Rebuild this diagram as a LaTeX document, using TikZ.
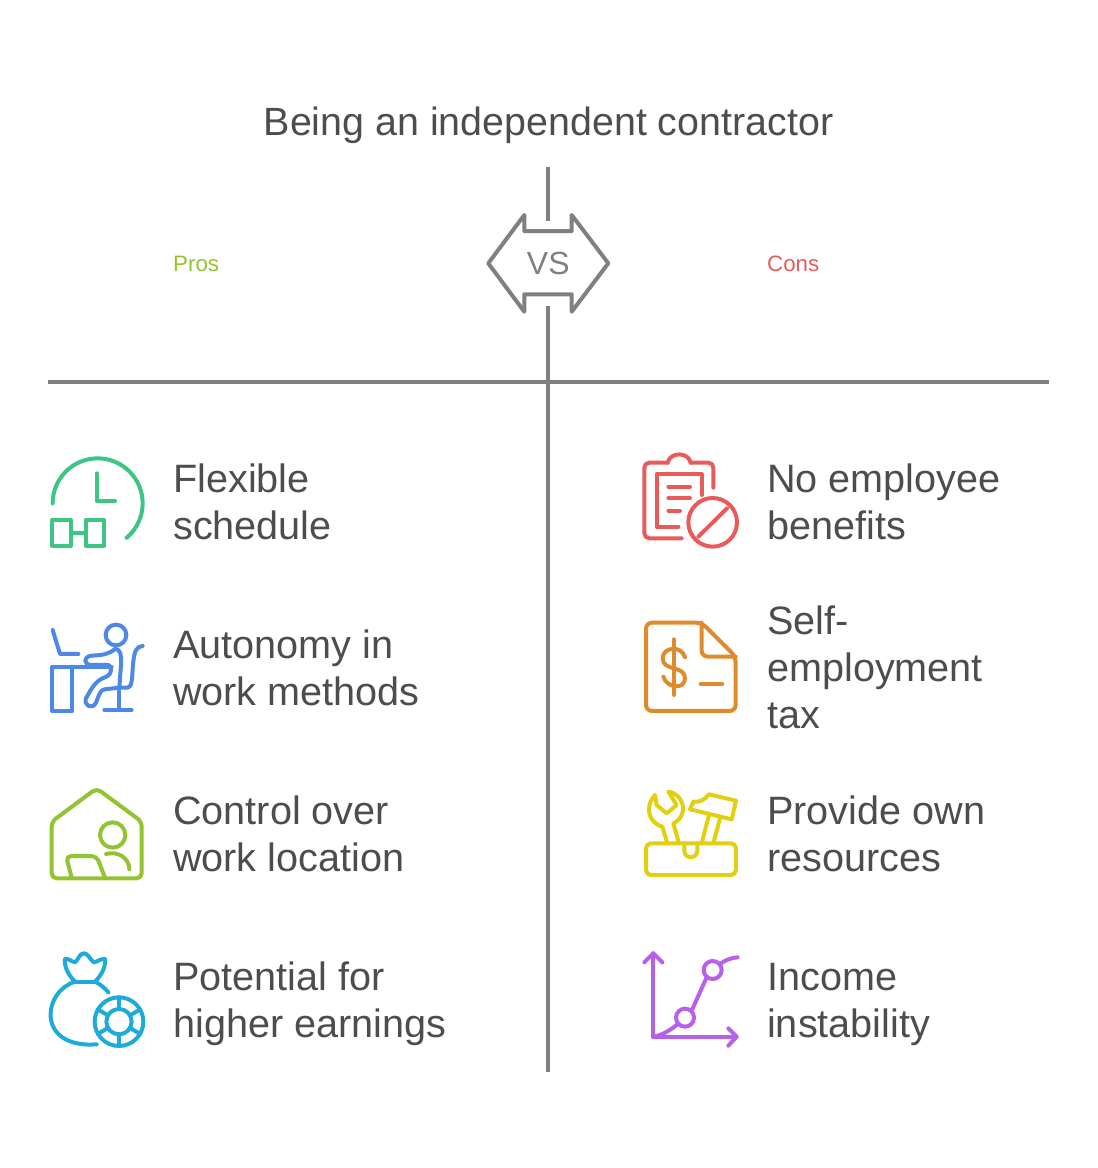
\documentclass[tikz,border=0pt]{standalone}
\usepackage{fontspec}
\setmainfont{Liberation Sans}
\usetikzlibrary{positioning}
\definecolor{inktext}{HTML}{4D4D4D}
\definecolor{axisgray}{HTML}{808080}
\definecolor{prosgreen}{HTML}{93C332}
\definecolor{consred}{HTML}{E85B5B}
\definecolor{clockgreen}{HTML}{3CC583}
\definecolor{deskblue}{HTML}{4E88E7}
\definecolor{bagblue}{HTML}{1EABDA}
\definecolor{taxorange}{HTML}{E08A2E}
\definecolor{toolyellow}{HTML}{E2CF10}
\definecolor{chartpurple}{HTML}{B760EA}
\tikzset{
  itemtext/.style={anchor=west, align=left, text=inktext, inner sep=0pt, font=\fontsize{39.6}{47}\selectfont, execute at begin node=\strut, execute at end node=\strut},
  sidetext/.style={anchor=west, inner sep=0pt, font=\fontsize{22.3}{27}\selectfont},
  axisline/.style={draw=axisgray, line width=4pt},
  iconline/.style={line width=4pt, line cap=round, line join=round},
}
\begin{document}
\begin{tikzpicture}[x=1pt, y=-1pt]
  \useasboundingbox (0,0) rectangle (1098,1168);

  % Title and side labels
  \node[text=inktext, inner sep=0pt, font=\fontsize{39.4}{47}\selectfont] (title) at (548.5,125) {Being an independent contractor};
  \node[sidetext, text=prosgreen] (pros) at (173,264) {Pros};
  \node[sidetext, text=consred] (cons) at (767,264) {Cons};

  % Axis lines
  \node[text=axisgray, inner sep=0pt, font=\fontsize{32}{32}\selectfont] (vs) at (548.3,263.5) {VS};
  \coordinate (axistop) at (548.3,167);
  \coordinate (axisgap) at (548.3,221);
  \coordinate (axisresume) at (548.3,306);
  \coordinate (axisend) at (548.3,1072);
  \coordinate (ruleleft) at (48,381.7);
  \coordinate (ruleright) at (1049,381.7);
  \draw[axisline] (axistop) -- (axisgap);
  \draw[axisline] (axisresume) -- (axisend);
  \draw[axisline] (ruleleft) -- (ruleright);
  \draw[axisline, line join=round] (488.3,263.3) -- (524.3,215) -- (524.3,231) -- (571.7,231) -- (571.7,215) -- (608.3,263.3) -- (571.7,311.7) -- (571.7,294.3) -- (524.3,294.3) -- (524.3,311.7) -- cycle;

  % Pros
  \node[itemtext] (flexible) at (173,508.6) {Flexible\\schedule};
  \node[itemtext] (autonomy) at (173,674.6) {Autonomy in\\work methods};
  \node[itemtext] (control) at (173,841) {Control over\\work location};
  \node[itemtext] (earnings) at (173,1007) {Potential for\\higher earnings};

  % Cons
  \node[itemtext] (benefits) at (767,508.6) {No employee\\benefits};
  \node[itemtext] (selftax) at (767,674.3) {Self-\\employment\\tax};
  \node[itemtext] (resources) at (767,841) {Provide own\\resources};
  \node[itemtext] (income) at (767,1007) {Income\\instability};

  % Clock
  \begin{scope}[shift={(40,445)}, scale=0.3333, iconline, draw=clockgreen]
    \draw (38,175) arc[start angle=180, end angle=410, radius=135];
    \draw (170,85) -- (170,167) -- (225,167);
    \draw (37,225) rectangle (92,302);
    \draw (137,225) rectangle (193,302);
    \draw (92,263) -- (137,263);
  \end{scope}

  % Desk
  \begin{scope}[shift={(40,445)}, scale=0.3333, iconline, draw=deskblue]
    \draw (228,570) circle[radius=31];
    \draw (38,555) -- (60,627) -- (115,627);
    \draw (97,665) -- (37,665) -- (37,798) -- (97,798) -- cycle;
    \draw (97,665) -- (215,665);
    \draw (225,612) .. controls (205,628) and (190,630) .. (155,632) .. controls (128,635) and (130,660) .. (155,660) -- (205,660) .. controls (218,662) and (215,690) .. (200,695) .. controls (170,705) and (160,720) .. (138,760) .. controls (130,780) and (155,795) .. (167,775) .. controls (180,745) and (180,735) .. (195,733) -- (238,728) -- (243,660) .. controls (245,630) and (240,610) .. (225,612);
    \draw (238,728) -- (262,728) .. controls (280,725) and (275,690) .. (280,650) .. controls (283,620) and (290,603) .. (308,603);
    \draw (237,728) -- (237,795);
    \draw (193,795) -- (275,795);
  \end{scope}

  % House
  \begin{scope}[shift={(40,780)}, scale=0.3333, iconline, draw=prosgreen]
    \draw[rounded corners=5pt] (170,25) -- (305,125) -- (305,295) -- (35,295) -- (35,125) -- cycle;
    \draw (218,165) circle[radius=38];
    \draw (198,222) .. controls (235,212) and (268,235) .. (268,268);
    \draw[rounded corners=5pt] (95,293) -- (78,228) -- (170,228) -- (195,293);
  \end{scope}

  % Money bag
  \begin{scope}[shift={(40,780)}, scale=0.3333, iconline, draw=bagblue]
    \draw (105,605) -- (165,605);
    \draw (105,605) .. controls (85,585) and (72,560) .. (75,537) .. controls (85,535) and (95,545) .. (105,547) .. controls (115,540) and (118,520) .. (132,520) .. controls (145,520) and (150,540) .. (162,547) .. controls (172,545) and (185,535) .. (195,537) .. controls (198,560) and (185,585) .. (165,605);
    \draw (105,605) .. controls (60,620) and (30,660) .. (32,710) .. controls (35,760) and (80,800) .. (170,793);
    \draw (165,605) .. controls (180,612) and (195,625) .. (205,637);
    \draw (237,725) circle[radius=73];
    \draw (237,725) circle[radius=38];
    \foreach \spoke in {30,90,150,210,270,330}
      \draw (237,725) ++(\spoke:38) -- ++(\spoke:35);
  \end{scope}

  % Clipboard
  \begin{scope}[shift={(635,445)}, scale=0.3333, iconline, draw=consred]
    \draw[rounded corners=5pt] (140,280) -- (28,280) -- (28,53) -- (98,53);
    \draw (98,53) .. controls (105,20) and (160,20) .. (167,53);
    \draw[rounded corners=5pt] (167,53) -- (235,53) -- (235,128);
    \draw (130,245) -- (65,245) -- (65,88) -- (200,88) -- (200,150);
    \draw (100,125) -- (165,125);
    \draw (100,160) -- (165,160);
    \draw (100,197) -- (135,197);
    \draw (233,232) circle[radius=73];
    \draw (190,275) -- (276,190);
  \end{scope}

  % Tax sheet
  \begin{scope}[shift={(635,445)}, scale=0.3333, iconline, draw=taxorange]
    \draw[rounded corners=6pt] (200,533) -- (33,533) -- (33,798) -- (302,798) -- (302,635) -- cycle;
    \draw[rounded corners=6pt] (200,533) -- (200,635) -- (302,635);
    \draw (117,583) -- (117,750);
    \draw (150,637) .. controls (140,600) and (83,605) .. (83,640) .. controls (83,680) and (150,660) .. (150,700) .. controls (150,735) and (95,730) .. (85,695);
    \draw (197,717) -- (262,717);
  \end{scope}

  % Toolbox
  \begin{scope}[shift={(635,780)}, scale=0.3333, iconline, draw=toolyellow]
    \draw[rounded corners=5pt] (33,190) -- (303,190) -- (303,285) -- (33,285) -- cycle;
    \draw (148,190) -- (148,212) .. controls (148,238) and (187,238) .. (187,212) -- (187,190);
    \draw (97,190) -- (82,140) .. controls (45,130) and (25,85) .. (60,45) -- (65,75) -- (95,100) -- (125,75) -- (100,35) .. controls (145,40) and (165,105) .. (115,130) -- (132,190);
    \draw (222,105) -- (200,190);
    \draw (255,115) -- (235,190);
    \draw (222,43) -- (303,62) -- (290,118) -- (165,88) -- (175,65) .. controls (190,68) and (210,60) .. (222,43);
  \end{scope}

  % Chart
  \begin{scope}[shift={(635,780)}, scale=0.3333, iconline, draw=chartpurple]
    \draw (55,770) -- (55,520);
    \draw (28,547) -- (55,520) -- (82,547);
    \draw (55,770) -- (305,770);
    \draw (280,745) -- (305,770) -- (280,797);
    \draw (55,770) .. controls (85,765) and (105,750) .. (128,733);
    \draw (150,713) circle[radius=27];
    \draw (170,692) -- (215,592);
    \draw (233,570) circle[radius=27];
    \draw (258,550) .. controls (272,540) and (290,533) .. (308,532);
  \end{scope}
\end{tikzpicture}
\end{document}
